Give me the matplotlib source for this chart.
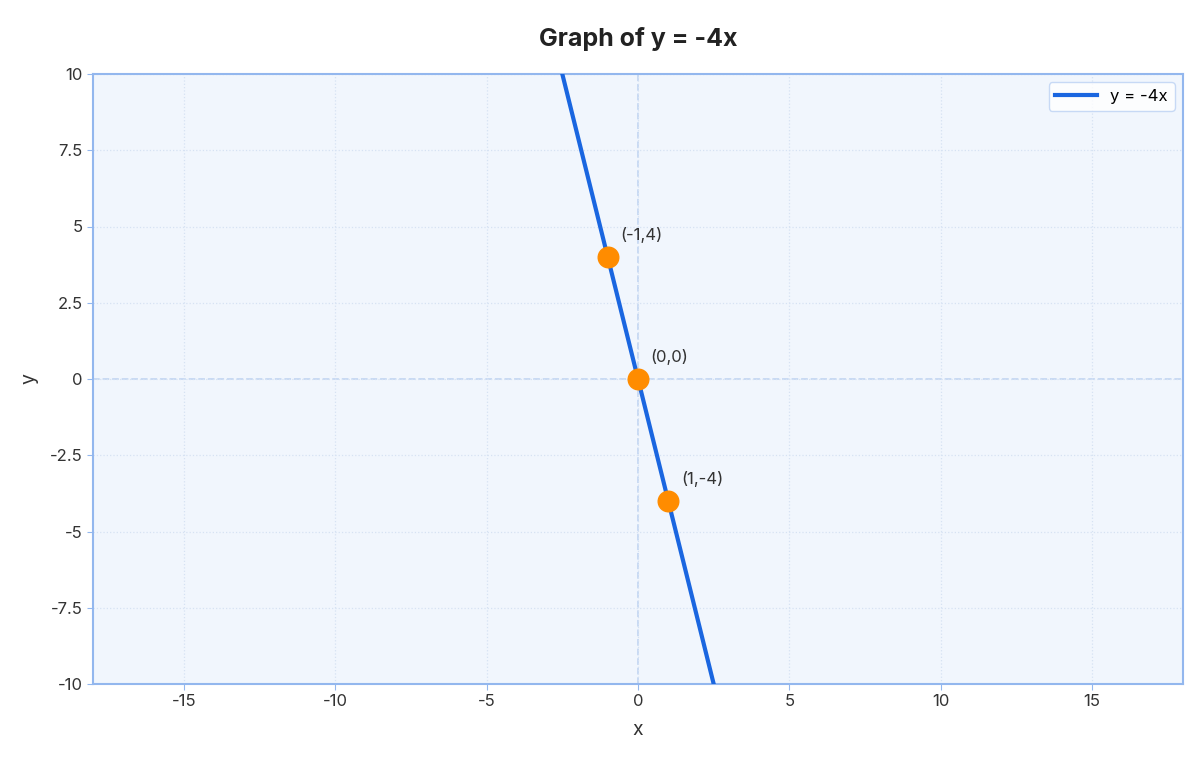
import numpy as np
import matplotlib
matplotlib.use("Agg")
import matplotlib.pyplot as plt

plt.rcParams['font.family'] = ['Inter', 'DejaVu Sans']
plt.rcParams['axes.unicode_minus'] = False

line_x = [-2.5, 2.5]
line_y = [10, -10]
pts_x = [-1, 0, 1]
pts_y = [4, 0, -4]
pt_labels = ["(-1,4)", "(0,0)", "(1,-4)"]
xticks = [-15, -10, -5, 0, 5, 10, 15]
yticks = [-10, -7.5, -5, -2.5, 0, 2.5, 5, 7.5, 10]
ytick_labels = ["-10", "-7.5", "-5", "-2.5", "0", "2.5", "5", "7.5", "10"]

fig = plt.figure(figsize=(12, 7.61), dpi=100)
ax = fig.add_axes([93/1200, 1-684/761, 1090/1200, 610/761])
ax.set_facecolor("#f1f6fd")
ax.set_xlim(-18, 18)
ax.set_ylim(-10, 10)
ax.set_xticks(xticks)
ax.set_yticks(yticks)
ax.set_yticklabels(ytick_labels)
ax.grid(True, color="#d6e2f3", linestyle=":", linewidth=0.9)
ax.axhline(0, color="#c5d8f3", linestyle="--", linewidth=1.3, zorder=1)
ax.axvline(0, color="#c5d8f3", linestyle="--", linewidth=1.3, zorder=1)
ax.plot(line_x, line_y, color="#1a66e0", linewidth=3, label="y = -4x", zorder=3)
ax.scatter(pts_x, pts_y, s=220, color="#ff8c00", zorder=4)
for x, y, t in zip(pts_x, pts_y, pt_labels):
    ax.annotate(t, (x, y), xytext=(9, 12), textcoords="offset points",
                fontsize=12, color="#333333")
for s in ax.spines.values():
    s.set_color("#93b7ee")
    s.set_linewidth(1.5)
ax.tick_params(colors="#333333", labelsize=12, length=4, color="#93b7ee")
ax.set_xlabel("x", fontsize=14, color="#333333", labelpad=8)
ax.set_ylabel("y", fontsize=14, color="#333333", labelpad=8)
ax.set_title("Graph of y = -4x", fontsize=18, fontweight="bold", color="#222222", pad=20)
leg = ax.legend(loc="upper right", fontsize=12, frameon=True, handlelength=2.5)
leg.get_frame().set_edgecolor("#bcd2f3")
leg.get_frame().set_facecolor("white")
fig.savefig("out.png", dpi=100)
